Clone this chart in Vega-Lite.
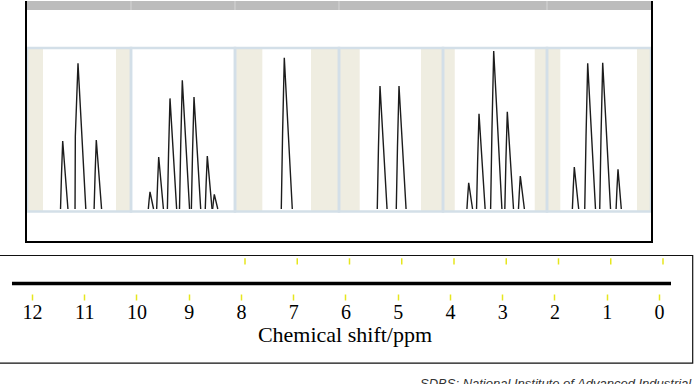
{
  "$schema": "https://vega.github.io/schema/vega-lite/v6.json",
  "padding": 0,
  "background": "white",
  "spacing": 0,
  "config": {"view": {"stroke": null}},
  "datasets": {
    "panels": [
      {"p": 1, "u0": 0, "u1": 1, "w0": 0.154, "w1": 0.856},
      {"p": 2, "u0": 1, "u1": 2, "w0": 1.0, "w1": 2.0},
      {"p": 3, "u0": 2, "u1": 3, "w0": 2.263, "w1": 2.731},
      {"p": 4, "u0": 3, "u1": 4, "w0": 3.199, "w1": 3.788},
      {"p": 5, "u0": 4, "u1": 5, "w0": 4.113, "w1": 4.882},
      {"p": 6, "u0": 5, "u1": 6, "w0": 5.128, "w1": 5.865}
    ],
    "hdr": [{"u": 1}, {"u": 2}, {"u": 3}, {"u": 5}],
    "uticks": [{"ppm": 8}, {"ppm": 7}, {"ppm": 6}, {"ppm": 5}, {"ppm": 4}, {"ppm": 3}, {"ppm": 2}, {"ppm": 1}, {"ppm": 0}],
    "spikes": [
      {"pk": "a1", "u": 0.3223, "i": 0}, {"pk": "a1", "u": 0.3316, "i": 21.5}, {"pk": "a1", "u": 0.3433, "i": 43.0}, {"pk": "a1", "u": 0.3937, "i": 0},
      {"pk": "a2", "u": 0.4619, "i": 0}, {"pk": "a2", "u": 0.4647, "i": 46.1}, {"pk": "a2", "u": 0.4904, "i": 92.2}, {"pk": "a2", "u": 0.5655, "i": 0},
      {"pk": "a3", "u": 0.6453, "i": 0}, {"pk": "a3", "u": 0.6547, "i": 21.9}, {"pk": "a3", "u": 0.6663, "i": 43.7}, {"pk": "a3", "u": 0.7171, "i": 0},
      {"pk": "b1", "u": 1.1666, "i": 0}, {"pk": "b1", "u": 1.174, "i": 5.5}, {"pk": "b1", "u": 1.1827, "i": 10.9}, {"pk": "b1", "u": 1.217, "i": 0},
      {"pk": "b2", "u": 1.2469, "i": 0}, {"pk": "b2", "u": 1.2557, "i": 16.5}, {"pk": "b2", "u": 1.2663, "i": 32.9}, {"pk": "b2", "u": 1.3117, "i": 0},
      {"pk": "b3", "u": 1.3499, "i": 0}, {"pk": "b3", "u": 1.361, "i": 35.0}, {"pk": "b3", "u": 1.375, "i": 70.0}, {"pk": "b3", "u": 1.4389, "i": 0},
      {"pk": "b4", "u": 1.4664, "i": 0}, {"pk": "b4", "u": 1.4782, "i": 40.7}, {"pk": "b4", "u": 1.4933, "i": 81.4}, {"pk": "b4", "u": 1.563, "i": 0},
      {"pk": "b5", "u": 1.5806, "i": 0}, {"pk": "b5", "u": 1.5916, "i": 35.5}, {"pk": "b5", "u": 1.6058, "i": 70.9}, {"pk": "b5", "u": 1.6702, "i": 0},
      {"pk": "b6", "u": 1.7141, "i": 0}, {"pk": "b6", "u": 1.7229, "i": 16.8}, {"pk": "b6", "u": 1.7337, "i": 33.5}, {"pk": "b6", "u": 1.7793, "i": 0},
      {"pk": "b7", "u": 1.7851, "i": 0}, {"pk": "b7", "u": 1.7924, "i": 4.7}, {"pk": "b7", "u": 1.801, "i": 9.3}, {"pk": "b7", "u": 1.8345, "i": 0},
      {"pk": "c1", "u": 2.4451, "i": 0}, {"pk": "c1", "u": 2.4576, "i": 47.9}, {"pk": "c1", "u": 2.474, "i": 95.7}, {"pk": "c1", "u": 2.5509, "i": 0},
      {"pk": "d1", "u": 3.368, "i": 0}, {"pk": "d1", "u": 3.3794, "i": 38.9}, {"pk": "d1", "u": 3.3942, "i": 77.8}, {"pk": "d1", "u": 3.4621, "i": 0},
      {"pk": "d2", "u": 3.5507, "i": 0}, {"pk": "d2", "u": 3.5621, "i": 38.9}, {"pk": "d2", "u": 3.5769, "i": 77.8}, {"pk": "d2", "u": 3.6448, "i": 0},
      {"pk": "e1", "u": 4.2302, "i": 0}, {"pk": "e1", "u": 4.2379, "i": 8.3}, {"pk": "e1", "u": 4.2471, "i": 16.6}, {"pk": "e1", "u": 4.2843, "i": 0},
      {"pk": "e2", "u": 4.3226, "i": 0}, {"pk": "e2", "u": 4.333, "i": 30.2}, {"pk": "e2", "u": 4.3462, "i": 60.3}, {"pk": "e2", "u": 4.4052, "i": 0},
      {"pk": "e3", "u": 4.4579, "i": 0}, {"pk": "e3", "u": 4.4707, "i": 50.0}, {"pk": "e3", "u": 4.4875, "i": 100}, {"pk": "e3", "u": 4.5664, "i": 0},
      {"pk": "e4", "u": 4.5945, "i": 0}, {"pk": "e4", "u": 4.605, "i": 30.8}, {"pk": "e4", "u": 4.6183, "i": 61.6}, {"pk": "e4", "u": 4.678, "i": 0},
      {"pk": "e5", "u": 4.7257, "i": 0}, {"pk": "e5", "u": 4.7337, "i": 10.5}, {"pk": "e5", "u": 4.7433, "i": 20.9}, {"pk": "e5", "u": 4.7826, "i": 0},
      {"pk": "f1", "u": 5.244, "i": 0}, {"pk": "f1", "u": 5.2524, "i": 13.3}, {"pk": "f1", "u": 5.2625, "i": 26.6}, {"pk": "f1", "u": 5.3047, "i": 0},
      {"pk": "f2", "u": 5.3629, "i": 0}, {"pk": "f2", "u": 5.3753, "i": 46.1}, {"pk": "f2", "u": 5.3913, "i": 92.2}, {"pk": "f2", "u": 5.4664, "i": 0},
      {"pk": "f3", "u": 5.5071, "i": 0}, {"pk": "f3", "u": 5.5194, "i": 46.3}, {"pk": "f3", "u": 5.5356, "i": 92.6}, {"pk": "f3", "u": 5.6109, "i": 0},
      {"pk": "f4", "u": 5.6644, "i": 0}, {"pk": "f4", "u": 5.6727, "i": 12.6}, {"pk": "f4", "u": 5.6827, "i": 25.1}, {"pk": "f4", "u": 5.7145, "i": 0}
    ]
  },
  "vconcat": [
    {
      "width": 697,
      "height": 248,
      "layer": [
        {
          "data": {"values": [{"part": "header"}]},
          "mark": {"type": "rect", "color": "#bcbcbc"},
          "encoding": {
            "x": {"datum": 0, "type": "quantitative", "scale": {"domain": [-0.2596, 6.4423], "nice": false, "zero": false}, "axis": null},
            "x2": {"datum": 6},
            "y": {"datum": 125.95, "type": "quantitative", "scale": {"domain": [-25.316, 131.646], "nice": false, "zero": false}, "axis": null},
            "y2": {"datum": 131.646}
          }
        },
        {
          "data": {"name": "hdr"},
          "mark": {"type": "rule", "color": "#d6d6d6", "strokeWidth": 1},
          "encoding": {
            "x": {"field": "u", "type": "quantitative", "scale": {"domain": [-0.2596, 6.4423], "nice": false, "zero": false}, "axis": null},
            "y": {"datum": 125.95, "type": "quantitative", "scale": {"domain": [-25.316, 131.646], "nice": false, "zero": false}, "axis": null},
            "y2": {"datum": 131.646}
          }
        },
        {
          "data": {"name": "panels"},
          "mark": {"type": "rect", "color": "#efede1"},
          "encoding": {
            "x": {"field": "u0", "type": "quantitative", "scale": {"domain": [-0.2596, 6.4423], "nice": false, "zero": false}, "axis": null},
            "x2": {"field": "u1"},
            "y": {"datum": -1.6, "type": "quantitative", "scale": {"domain": [-25.316, 131.646], "nice": false, "zero": false}, "axis": null},
            "y2": {"datum": 101.9}
          }
        },
        {
          "data": {"name": "panels"},
          "mark": {"type": "rect", "color": "#ffffff"},
          "encoding": {
            "x": {"field": "w0", "type": "quantitative", "scale": {"domain": [-0.2596, 6.4423], "nice": false, "zero": false}, "axis": null},
            "x2": {"field": "w1"},
            "y": {"datum": -1.6, "type": "quantitative", "scale": {"domain": [-25.316, 131.646], "nice": false, "zero": false}, "axis": null},
            "y2": {"datum": 101.9}
          }
        },
        {
          "data": {"name": "panels"},
          "mark": {"type": "rect", "filled": false, "color": "#d3dfe8", "strokeWidth": 2.5},
          "encoding": {
            "x": {"field": "u0", "type": "quantitative", "scale": {"domain": [-0.2596, 6.4423], "nice": false, "zero": false}, "axis": null},
            "x2": {"field": "u1"},
            "y": {"datum": -1.6, "type": "quantitative", "scale": {"domain": [-25.316, 131.646], "nice": false, "zero": false}, "axis": null},
            "y2": {"datum": 101.9}
          }
        },
        {
          "data": {"name": "spikes"},
          "mark": {"type": "line", "color": "#1c1c1c", "strokeWidth": 1.4},
          "encoding": {
            "x": {"field": "u", "type": "quantitative", "scale": {"domain": [-0.2596, 6.4423], "nice": false, "zero": false}, "axis": null},
            "y": {"field": "i", "type": "quantitative", "scale": {"domain": [-25.316, 131.646], "nice": false, "zero": false}, "axis": null},
            "detail": {"field": "pk", "type": "nominal"}
          }
        },
        {
          "data": {"values": [{"part": "frame"}]},
          "mark": {"type": "rect", "filled": false, "color": "#000000", "strokeWidth": 2, "clip": true},
          "encoding": {
            "x": {"datum": -0.0096, "type": "quantitative", "scale": {"domain": [-0.2596, 6.4423], "nice": false, "zero": false}, "axis": null},
            "x2": {"datum": 6.0096},
            "y": {"datum": -20.886, "type": "quantitative", "scale": {"domain": [-25.316, 131.646], "nice": false, "zero": false}, "axis": null},
            "y2": {"datum": 140}
          }
        }
      ]
    },
    {
      "width": 697,
      "height": 136,
      "layer": [
        {
          "data": {"name": "uticks"},
          "mark": {"type": "rule", "color": "#e6e61e", "strokeWidth": 1.5, "xOffset": 4},
          "encoding": {
            "x": {
              "field": "ppm", "type": "quantitative",
              "scale": {"domain": [-0.7273, 12.6124], "reverse": true, "nice": false, "zero": false},
              "axis": {
                "orient": "bottom", "offset": -91,
                "values": [0, 1, 2, 3, 4, 5, 6, 7, 8, 9, 10, 11, 12],
                "format": "d",
                "domain": false, "grid": false,
                "ticks": true, "tickColor": "#e6e61e", "tickSize": 6, "tickWidth": 1.5,
                "labelFont": "Liberation Serif", "labelFontSize": 20, "labelColor": "#000000",
                "labelPadding": 2, "labelFlush": false, "labelOverlap": false,
                "title": "Chemical shift/ppm",
                "titleFont": "Liberation Serif", "titleFontSize": 22, "titleFontWeight": "normal",
                "titleColor": "#000000", "titlePadding": 2, "titleX": 344.5
              }
            },
            "y": {"datum": 93.16, "type": "quantitative", "scale": {"domain": [0, 100], "nice": false, "zero": false}, "axis": null},
            "y2": {"datum": 88.6}
          }
        },
        {
          "data": {"values": [{"part": "box"}]},
          "mark": {"type": "rect", "filled": false, "color": "#111111", "strokeWidth": 1.2, "clip": true},
          "encoding": {
            "x": {
              "datum": 13, "type": "quantitative",
              "scale": {"domain": [-0.7273, 12.6124], "reverse": true, "nice": false, "zero": false},
              "axis": {
                "orient": "bottom", "offset": -91,
                "values": [0, 1, 2, 3, 4, 5, 6, 7, 8, 9, 10, 11, 12],
                "format": "d",
                "domain": false, "grid": false,
                "ticks": true, "tickColor": "#e6e61e", "tickSize": 6, "tickWidth": 1.5,
                "labelFont": "Liberation Serif", "labelFontSize": 20, "labelColor": "#000000",
                "labelPadding": 2, "labelFlush": false, "labelOverlap": false,
                "title": "Chemical shift/ppm",
                "titleFont": "Liberation Serif", "titleFontSize": 22, "titleFontWeight": "normal",
                "titleColor": "#000000", "titlePadding": 2, "titleX": 344.5
              }
            },
            "x2": {"datum": -0.645},
            "y": {"datum": 16.03, "type": "quantitative", "scale": {"domain": [0, 100], "nice": false, "zero": false}, "axis": null},
            "y2": {"datum": 95.22}
          }
        },
        {
          "data": {"values": [{"part": "baseline"}]},
          "mark": {"type": "rule", "color": "#000000", "strokeWidth": 3.6},
          "encoding": {
            "x": {
              "datum": 12.383, "type": "quantitative",
              "scale": {"domain": [-0.7273, 12.6124], "reverse": true, "nice": false, "zero": false},
              "axis": {
                "orient": "bottom", "offset": -91,
                "values": [0, 1, 2, 3, 4, 5, 6, 7, 8, 9, 10, 11, 12],
                "format": "d",
                "domain": false, "grid": false,
                "ticks": true, "tickColor": "#e6e61e", "tickSize": 6, "tickWidth": 1.5,
                "labelFont": "Liberation Serif", "labelFontSize": 20, "labelColor": "#000000",
                "labelPadding": 2, "labelFlush": false, "labelOverlap": false,
                "title": "Chemical shift/ppm",
                "titleFont": "Liberation Serif", "titleFontSize": 22, "titleFontWeight": "normal",
                "titleColor": "#000000", "titlePadding": 2, "titleX": 344.5
              }
            },
            "x2": {"datum": -0.2297},
            "y": {"datum": 74.63, "type": "quantitative", "scale": {"domain": [0, 100], "nice": false, "zero": false}, "axis": null}
          }
        },
        {
          "data": {"values": [{"credit": "SDBS: National Institute of Advanced Industrial"}]},
          "mark": {"type": "text", "align": "left", "baseline": "alphabetic", "font": "Liberation Sans", "fontStyle": "italic", "fontSize": 13, "color": "#333333"},
          "encoding": {
            "text": {"field": "credit"},
            "x": {
              "datum": 4.574, "type": "quantitative",
              "scale": {"domain": [-0.7273, 12.6124], "reverse": true, "nice": false, "zero": false},
              "axis": {
                "orient": "bottom", "offset": -91,
                "values": [0, 1, 2, 3, 4, 5, 6, 7, 8, 9, 10, 11, 12],
                "format": "d",
                "domain": false, "grid": false,
                "ticks": true, "tickColor": "#e6e61e", "tickSize": 6, "tickWidth": 1.5,
                "labelFont": "Liberation Serif", "labelFontSize": 20, "labelColor": "#000000",
                "labelPadding": 2, "labelFlush": false, "labelOverlap": false,
                "title": "Chemical shift/ppm",
                "titleFont": "Liberation Serif", "titleFontSize": 22, "titleFontWeight": "normal",
                "titleColor": "#000000", "titlePadding": 2, "titleX": 344.5
              }
            },
            "y": {"datum": -2.2, "type": "quantitative", "scale": {"domain": [0, 100], "nice": false, "zero": false}, "axis": null}
          }
        }
      ]
    }
  ]
}
